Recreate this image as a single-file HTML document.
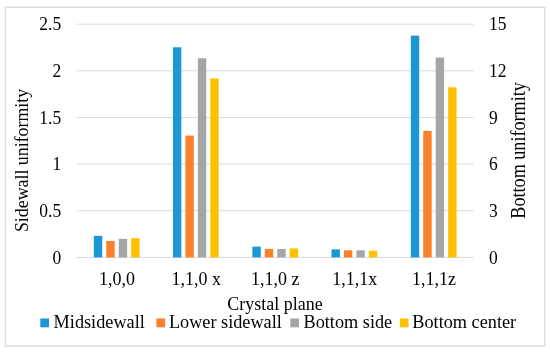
<!DOCTYPE html>
<html><head><meta charset="utf-8"><title>Chart</title>
<style>html,body{margin:0;padding:0;background:#fff}</style></head>
<body>
<svg width="550" height="353" viewBox="0 0 550 353" style="display:block">
<rect width="550" height="353" fill="#fff"/>
<rect x="5.4" y="7.3" width="539.4" height="338.8" fill="#fff" stroke="#dcdcdc" stroke-width="1.5"/>
<line x1="76.7" x2="473.8" y1="24.20" y2="24.20" stroke="#d9d9d9" stroke-width="1"/>
<line x1="76.7" x2="473.8" y1="70.84" y2="70.84" stroke="#d9d9d9" stroke-width="1"/>
<line x1="76.7" x2="473.8" y1="117.48" y2="117.48" stroke="#d9d9d9" stroke-width="1"/>
<line x1="76.7" x2="473.8" y1="164.12" y2="164.12" stroke="#d9d9d9" stroke-width="1"/>
<line x1="76.7" x2="473.8" y1="210.76" y2="210.76" stroke="#d9d9d9" stroke-width="1"/>
<line x1="76.7" x2="473.8" y1="257.40" y2="257.40" stroke="#d9d9d9" stroke-width="1"/>
<rect x="93.83" y="235.84" width="8.4" height="21.56" fill="#1c97d6"/>
<rect x="106.28" y="240.98" width="8.4" height="16.42" fill="#fc7f2a"/>
<rect x="118.73" y="238.83" width="8.4" height="18.57" fill="#a5a5a5"/>
<rect x="131.19" y="238.18" width="8.4" height="19.22" fill="#ffc000"/>
<rect x="172.95" y="47.28" width="8.4" height="210.12" fill="#1c97d6"/>
<rect x="185.40" y="135.58" width="8.4" height="121.82" fill="#fc7f2a"/>
<rect x="197.85" y="58.31" width="8.4" height="199.09" fill="#a5a5a5"/>
<rect x="210.30" y="78.40" width="8.4" height="179.00" fill="#ffc000"/>
<rect x="252.38" y="246.59" width="8.4" height="10.81" fill="#1c97d6"/>
<rect x="264.82" y="248.92" width="8.4" height="8.48" fill="#fc7f2a"/>
<rect x="277.27" y="248.92" width="8.4" height="8.48" fill="#a5a5a5"/>
<rect x="289.73" y="248.46" width="8.4" height="8.94" fill="#ffc000"/>
<rect x="331.50" y="249.39" width="8.4" height="8.01" fill="#1c97d6"/>
<rect x="343.94" y="250.32" width="8.4" height="7.08" fill="#fc7f2a"/>
<rect x="356.39" y="250.32" width="8.4" height="7.08" fill="#a5a5a5"/>
<rect x="368.84" y="250.79" width="8.4" height="6.61" fill="#ffc000"/>
<rect x="410.81" y="35.60" width="8.4" height="221.80" fill="#1c97d6"/>
<rect x="423.26" y="130.91" width="8.4" height="126.49" fill="#fc7f2a"/>
<rect x="435.71" y="57.56" width="8.4" height="199.84" fill="#a5a5a5"/>
<rect x="448.16" y="87.27" width="8.4" height="170.13" fill="#ffc000"/>
<g font-family="'Liberation Serif', serif" fill="#000">
<text transform="translate(61.20,30.10) scale(1,1.12)" font-size="17.5px" text-anchor="end">2.5</text>
<text transform="translate(61.20,76.86) scale(1,1.12)" font-size="17.5px" text-anchor="end">2</text>
<text transform="translate(61.20,123.62) scale(1,1.12)" font-size="17.5px" text-anchor="end">1.5</text>
<text transform="translate(61.20,170.38) scale(1,1.12)" font-size="17.5px" text-anchor="end">1</text>
<text transform="translate(61.20,217.14) scale(1,1.12)" font-size="17.5px" text-anchor="end">0.5</text>
<text transform="translate(61.20,263.90) scale(1,1.12)" font-size="17.5px" text-anchor="end">0</text>
<text transform="translate(489.00,30.10) scale(1,1.12)" font-size="17.5px" text-anchor="start">15</text>
<text transform="translate(489.00,76.86) scale(1,1.12)" font-size="17.5px" text-anchor="start">12</text>
<text transform="translate(489.00,123.62) scale(1,1.12)" font-size="17.5px" text-anchor="start">9</text>
<text transform="translate(489.00,170.38) scale(1,1.12)" font-size="17.5px" text-anchor="start">6</text>
<text transform="translate(489.00,217.14) scale(1,1.12)" font-size="17.5px" text-anchor="start">3</text>
<text transform="translate(489.00,263.90) scale(1,1.12)" font-size="17.5px" text-anchor="start">0</text>
<text transform="translate(116.91,285.00) scale(1,1.08)" font-size="18px" text-anchor="middle">1,0,0</text>
<text transform="translate(196.33,285.00) scale(1,1.08)" font-size="18px" text-anchor="middle">1,1,0 x</text>
<text transform="translate(275.25,285.00) scale(1,1.08)" font-size="18px" text-anchor="middle">1,1,0 z</text>
<text transform="translate(354.67,285.00) scale(1,1.08)" font-size="18px" text-anchor="middle">1,1,1x</text>
<text transform="translate(434.09,285.00) scale(1,1.08)" font-size="18px" text-anchor="middle">1,1,1z</text>
<text transform="translate(275.00,309.70) scale(1,1.1)" font-size="18px" text-anchor="middle">Crystal plane</text>
<text transform="translate(27.90,160.50) rotate(-90) scale(1,1.1)" font-size="17.85px" text-anchor="middle">Sidewall uniformity</text>
<text transform="translate(525.30,150.40) rotate(-90) scale(1,1.1)" font-size="18.15px" text-anchor="middle">Bottom uniformity</text>
<rect x="40.3" y="318.5" width="8.7" height="8.8" fill="#1c97d6"/>
<text transform="translate(53.60,327.90) scale(1,1.08)" font-size="18.25px" text-anchor="start">Midsidewall</text>
<rect x="156.4" y="318.5" width="8.7" height="8.8" fill="#fc7f2a"/>
<text transform="translate(168.90,327.90) scale(1,1.08)" font-size="18.25px" text-anchor="start">Lower sidewall</text>
<rect x="290.3" y="318.5" width="8.7" height="8.8" fill="#a5a5a5"/>
<text transform="translate(303.50,327.90) scale(1,1.08)" font-size="18.25px" text-anchor="start">Bottom side</text>
<rect x="399.8" y="318.5" width="8.7" height="8.8" fill="#ffc000"/>
<text transform="translate(412.30,327.90) scale(1,1.08)" font-size="18.25px" text-anchor="start">Bottom center</text>
</g></svg>
</body></html>
